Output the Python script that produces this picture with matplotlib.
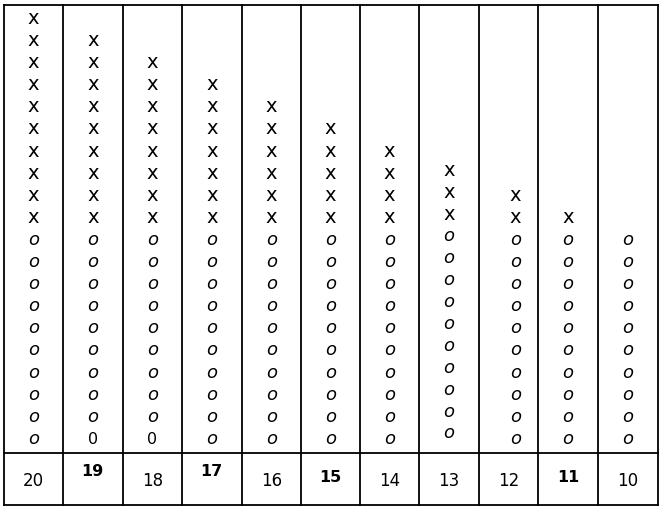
import matplotlib.pyplot as plt
import numpy as np

# tally chart: each column is a number, o's stacked first then x's on top
numbers = [20, 19, 18, 17, 16, 15, 14, 13, 12, 11, 10]
o_counts = [10, 10, 10, 10, 10, 10, 10, 10, 10, 10, 10]
x_counts = [10, 9, 8, 7, 6, 5, 4, 3, 2, 1, 0]
bold_labels = [19, 17, 15, 11]
zero_bottom = [19, 18]  # these columns use an upright "0" as the last mark

# layout (pixels)
W, H = 660, 507
col_edges = [4, 63, 122.5, 182, 241.5, 301, 360, 419, 479, 538, 598, 657.5]
top_y, split_y, bottom_y = 5, 453, 505
row_pitch = [22.15] * 11
row_pitch[7] = 21.9
base_y = [440] * 11
base_y[7] = 434.5
x_shift = [0] * 11
x_shift[8] = 7

fig = plt.figure(figsize=(W / 100, H / 100), dpi=100)
ax = fig.add_axes([0, 0, 1, 1])
ax.set_xlim(0, W)
ax.set_ylim(H, 0)
ax.axis("off")

lw = 1.3
for e in col_edges:
    ax.plot([e, e], [top_y, bottom_y], color="black", lw=lw, solid_capstyle="projecting")
for yy in [top_y, split_y, bottom_y]:
    ax.plot([col_edges[0], col_edges[-1]], [yy, yy], color="black", lw=lw, solid_capstyle="projecting")

for i, n in enumerate(numbers):
    cx = (col_edges[i] + col_edges[i + 1]) / 2
    mx = cx + x_shift[i]
    for j in range(o_counts[i]):
        y = base_y[i] - j * row_pitch[i]
        if j == 0 and n in zero_bottom:
            ax.text(mx, y, "0", ha="center", va="center", fontsize=11.5, family="DejaVu Sans")
        else:
            ax.text(mx, y - 1, "o", ha="center", va="center", fontsize=13, style="italic", family="DejaVu Sans")
    for j in range(x_counts[i]):
        y = base_y[i] - (o_counts[i] + j) * row_pitch[i]
        ax.text(mx, y - 1, "x", ha="center", va="center", fontsize=14, family="DejaVu Sans")
    if n in bold_labels:
        ly = 471 if n in (19, 17) else 478
        ax.text(cx, ly, str(n), ha="center", va="center", fontsize=11.5, fontweight="bold", family="DejaVu Sans")
    else:
        ax.text(cx, 480.5, str(n), ha="center", va="center", fontsize=12, family="DejaVu Sans")

fig.savefig("out.png", dpi=100, facecolor="white")
